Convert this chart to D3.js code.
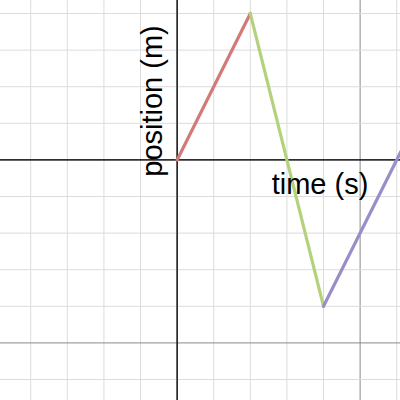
<!DOCTYPE html>
<html><head><meta charset="utf-8">
<script src="https://cdn.jsdelivr.net/npm/d3@7"></script>
<style>body{margin:0;background:#fff}svg{display:block}</style>
</head><body>
<script>
// segments of position vs time
var segT = [[0, 2], [2, 4], [4, 6.2]];
var segX = [[0, 4], [4, -4], [-4, 0.4]];
var segColors = ["#d27a79", "#b4d27d", "#9b8dc5"];

var W = 400, H = 400;
var x = d3.scaleLinear().domain([-4.84, 6.09]).range([0, W]);
var y = d3.scaleLinear().domain([4.37, -6.56]).range([0, H]);

var svg = d3.select("body").append("svg").attr("width", W).attr("height", H);

var minor = d3.range(-4, 7), minorY = d3.range(-6, 5);
svg.selectAll(".vx").data(minor).enter().append("line")
    .attr("x1", d => x(d)).attr("x2", d => x(d)).attr("y1", 0).attr("y2", H)
    .attr("stroke", d => d % 5 === 0 ? "#8a8a8a" : "#dcdcdc").attr("stroke-width", 1);
svg.selectAll(".hy").data(minorY).enter().append("line")
    .attr("y1", d => y(d)).attr("y2", d => y(d)).attr("x1", 0).attr("x2", W)
    .attr("stroke", d => d % 5 === 0 ? "#8a8a8a" : "#dcdcdc").attr("stroke-width", 1);

// axes
svg.append("line").attr("x1", x(0)).attr("x2", x(0)).attr("y1", 0).attr("y2", H)
    .attr("stroke", "#000").attr("stroke-width", 1.3);
svg.append("line").attr("y1", y(0)).attr("y2", y(0)).attr("x1", 0).attr("x2", W)
    .attr("stroke", "#000").attr("stroke-width", 1.3);

segT.forEach(function (t, i) {
    svg.append("line")
        .attr("x1", x(t[0])).attr("y1", y(segX[i][0]))
        .attr("x2", x(t[1])).attr("y2", y(segX[i][1]))
        .attr("stroke", segColors[i]).attr("stroke-width", 3.2)
        .attr("stroke-linecap", "round");
});

svg.append("text")
    .attr("transform", "translate(162,101) rotate(-90)")
    .attr("text-anchor", "middle")
    .style("font-family", "Liberation Sans, Arial, sans-serif")
    .style("font-size", "29px")
    .text("position (m)");
svg.append("text")
    .attr("x", 320).attr("y", 194)
    .attr("text-anchor", "middle")
    .style("font-family", "Liberation Sans, Arial, sans-serif")
    .style("font-size", "29px")
    .text("time (s)");
</script>
</body></html>
